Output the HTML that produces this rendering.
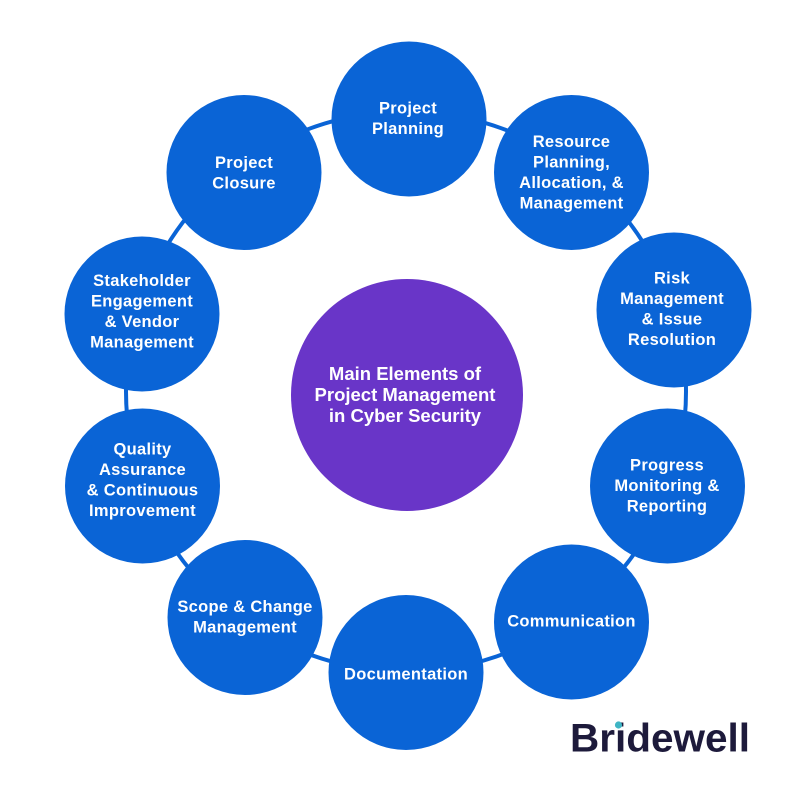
<!DOCTYPE html>
<html>
<head>
<meta charset="utf-8">
<style>
  html,body{margin:0;padding:0;background:#ffffff;}
  svg{display:block;}
  .n{font-family:"Liberation Sans",Arial,sans-serif;font-weight:bold;font-size:16.5px;fill:#ffffff;text-anchor:middle;letter-spacing:0.3px;}
  .c{font-family:"Liberation Sans",Arial,sans-serif;font-weight:bold;font-size:18.5px;fill:#ffffff;text-anchor:middle;}
  .logo{font-family:"Liberation Sans",Arial,sans-serif;font-weight:bold;font-size:40px;fill:#1d1a3b;}
</style>
</head>
<body>
<svg width="800" height="800" viewBox="0 0 800 800" xmlns="http://www.w3.org/2000/svg">
  <rect width="800" height="800" fill="#ffffff"/>
  <!-- ring connector -->
  <circle cx="406" cy="391.5" r="280" fill="none" stroke="#0a64d6" stroke-width="4"/>

  <!-- center -->
  <circle cx="407" cy="395" r="116" fill="#6935c8"/>
  <text class="c" x="405" y="380">Main Elements of</text>
  <text class="c" x="405" y="401">Project Management</text>
  <text class="c" x="405" y="422">in Cyber Security</text>

  <!-- nodes -->
  <g fill="#0a64d6">
    <circle cx="409" cy="119" r="77.5"/>
    <circle cx="571.5" cy="172.5" r="77.5"/>
    <circle cx="674" cy="310" r="77.5"/>
    <circle cx="667.5" cy="486" r="77.5"/>
    <circle cx="571.5" cy="622" r="77.5"/>
    <circle cx="406" cy="672.5" r="77.5"/>
    <circle cx="245" cy="617.5" r="77.5"/>
    <circle cx="142.5" cy="486" r="77.5"/>
    <circle cx="142" cy="314" r="77.5"/>
    <circle cx="244" cy="172.5" r="77.5"/>
  </g>

  <!-- Project Planning -->
  <text class="n" x="408" y="113.5">Project</text>
  <text class="n" x="408" y="134">Planning</text>

  <!-- Resource -->
  <text class="n" x="571.5" y="147">Resource</text>
  <text class="n" x="571.5" y="167.5">Planning,</text>
  <text class="n" x="571.5" y="188">Allocation, &amp;</text>
  <text class="n" x="571.5" y="208.5">Management</text>

  <!-- Risk -->
  <text class="n" x="672" y="283.5">Risk</text>
  <text class="n" x="672" y="304">Management</text>
  <text class="n" x="672" y="324.5">&amp; Issue</text>
  <text class="n" x="672" y="345">Resolution</text>

  <!-- Progress -->
  <text class="n" x="667" y="470.5">Progress</text>
  <text class="n" x="667" y="491">Monitoring &amp;</text>
  <text class="n" x="667" y="511.5">Reporting</text>

  <!-- Communication -->
  <text class="n" x="571.5" y="626.5">Communication</text>

  <!-- Documentation -->
  <text class="n" x="406" y="679.5">Documentation</text>

  <!-- Scope -->
  <text class="n" x="245" y="612">Scope &amp; Change</text>
  <text class="n" x="245" y="632.5">Management</text>

  <!-- Quality -->
  <text class="n" x="142.5" y="454.5">Quality</text>
  <text class="n" x="142.5" y="475">Assurance</text>
  <text class="n" x="142.5" y="495.5">&amp; Continuous</text>
  <text class="n" x="142.5" y="516">Improvement</text>

  <!-- Stakeholder -->
  <text class="n" x="142" y="286">Stakeholder</text>
  <text class="n" x="142" y="306.5">Engagement</text>
  <text class="n" x="142" y="327">&amp; Vendor</text>
  <text class="n" x="142" y="347.5">Management</text>

  <!-- Closure -->
  <text class="n" x="244" y="168">Project</text>
  <text class="n" x="244" y="188.5">Closure</text>

  <!-- logo -->
  <text class="logo" x="570" y="751.5" textLength="180" lengthAdjust="spacingAndGlyphs">Bridewell</text>
  <circle cx="618.5" cy="725" r="3.6" fill="#3fb5c4"/>
</svg>
</body>
</html>
